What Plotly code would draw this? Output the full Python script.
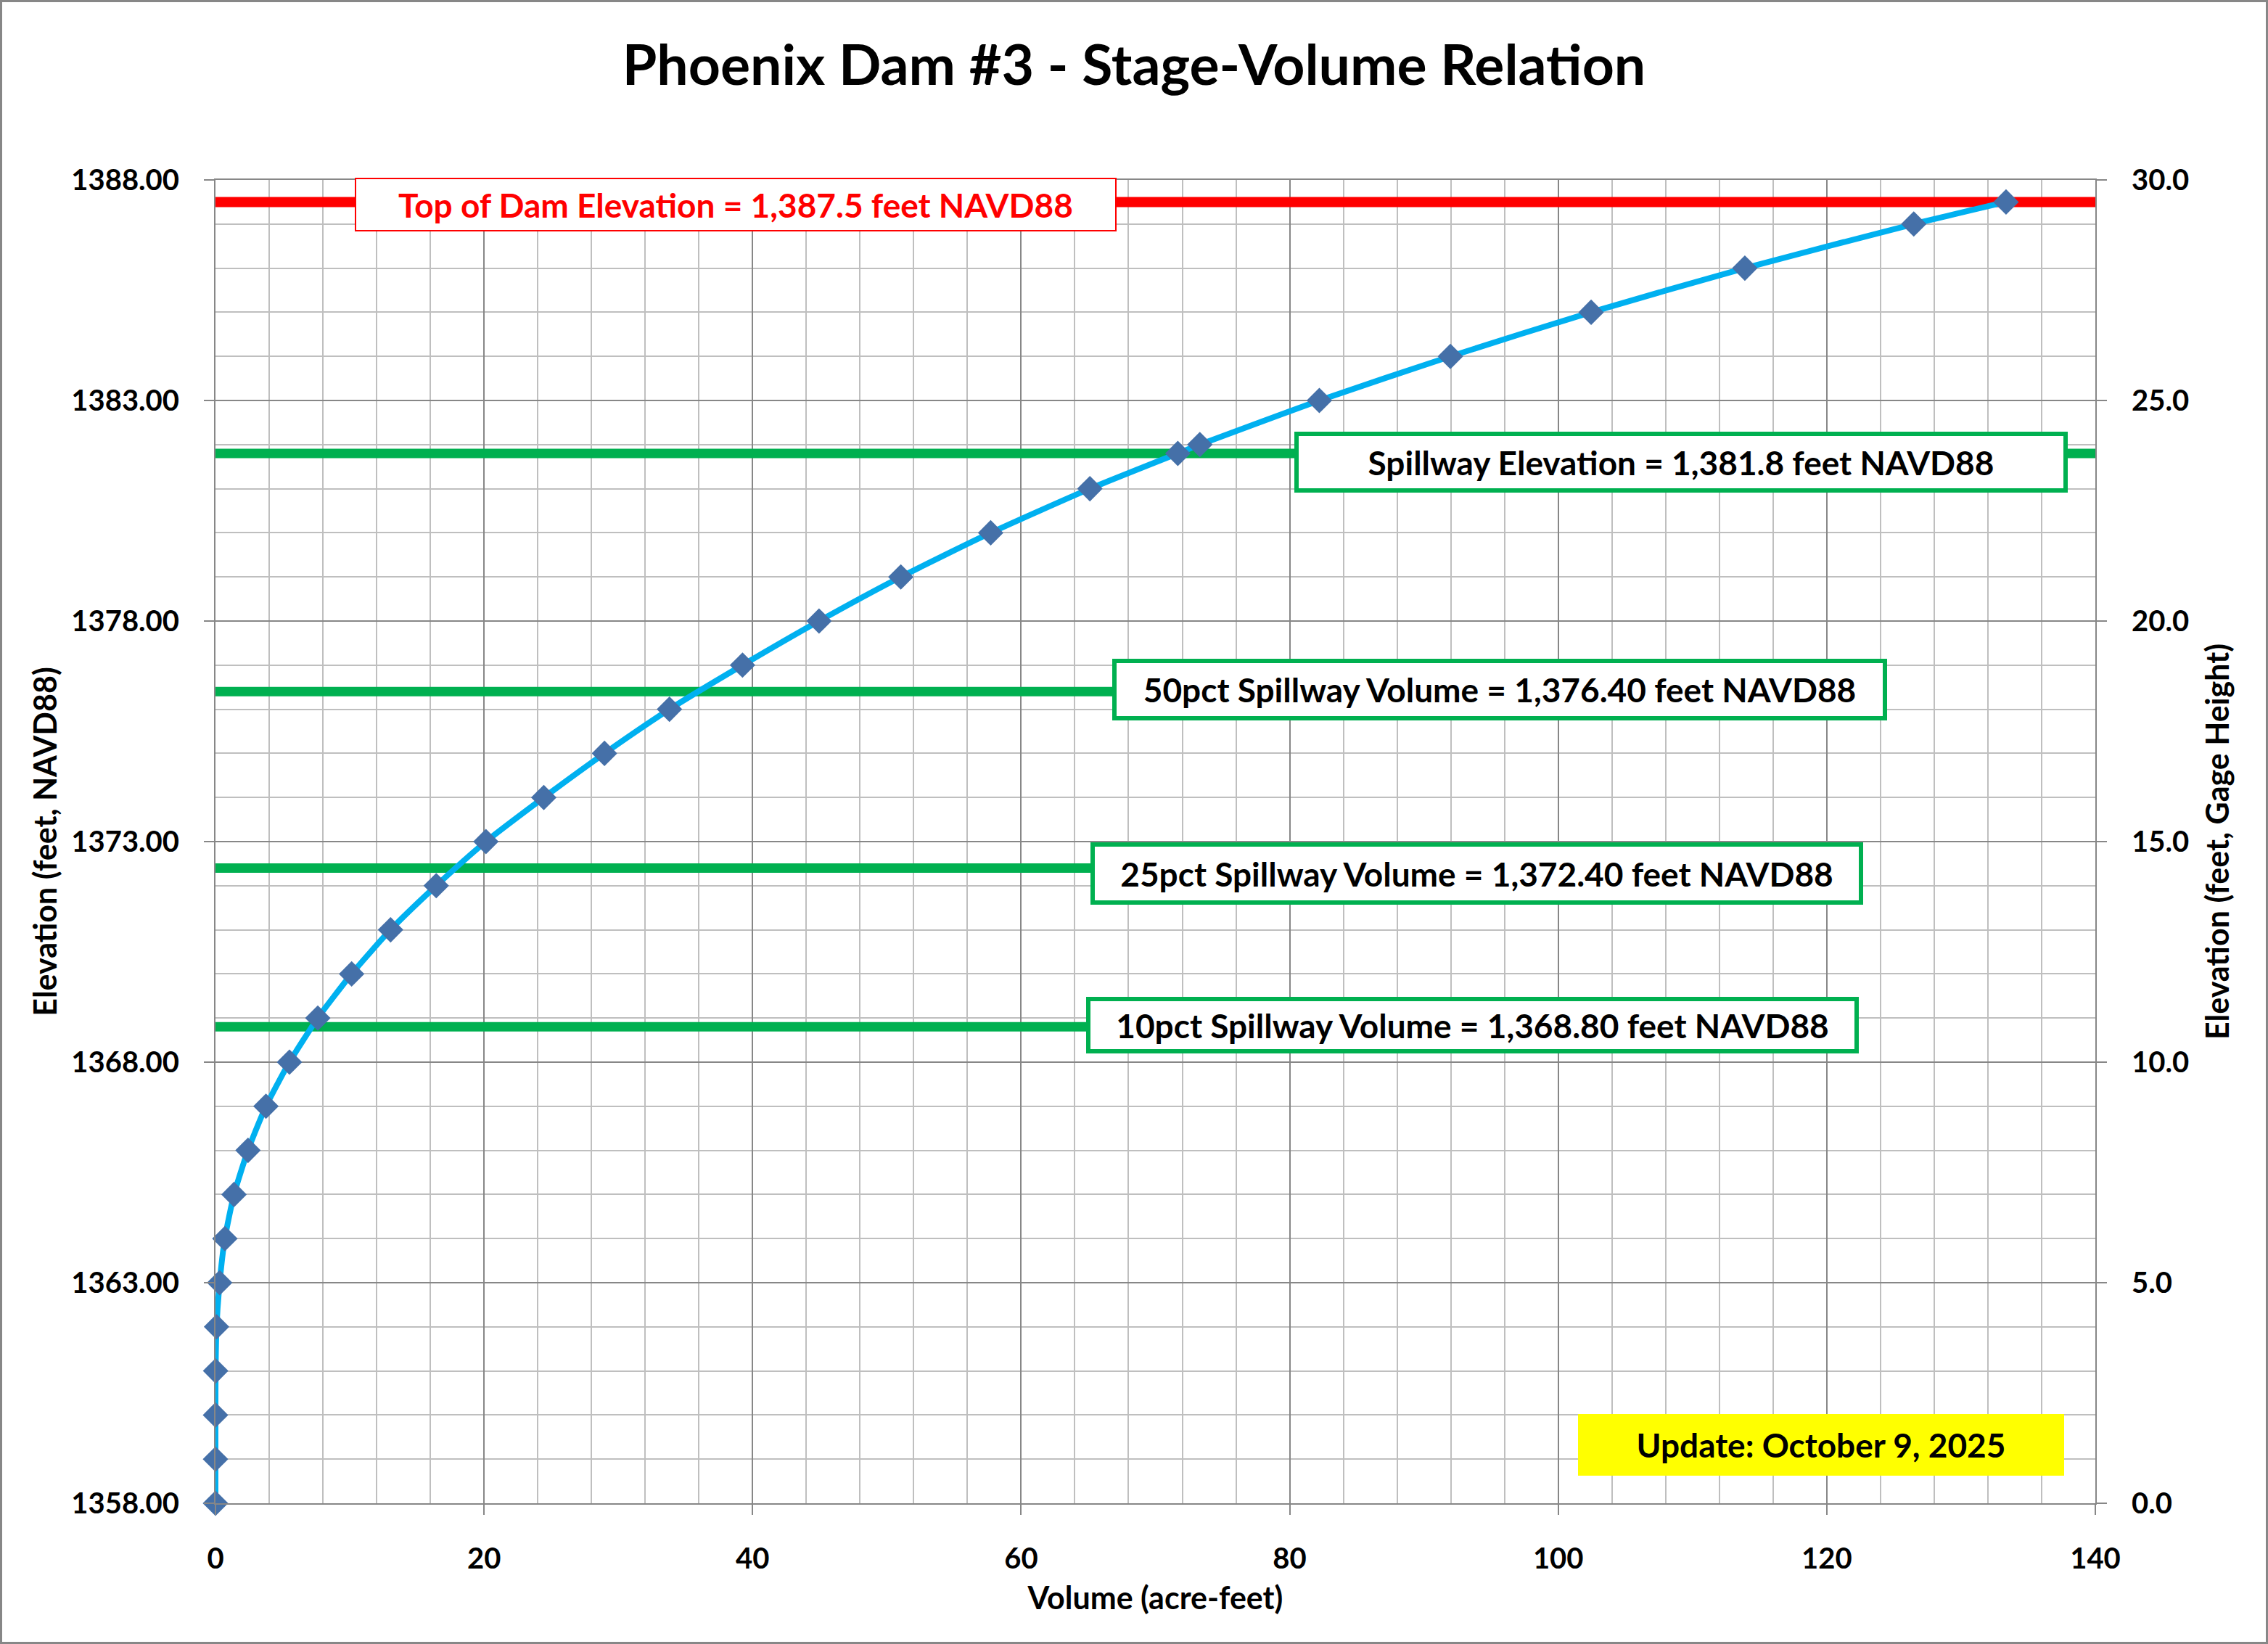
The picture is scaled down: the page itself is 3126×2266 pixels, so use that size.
import plotly.graph_objects as go

# ---------------- data ----------------
elevation_ft = [1358, 1359, 1360, 1361, 1362, 1363, 1364, 1365, 1366, 1367,
                1368, 1369, 1370, 1371, 1372, 1373, 1374, 1375, 1376, 1377,
                1378, 1379, 1380, 1381, 1381.8, 1382, 1383, 1384, 1385, 1386,
                1387, 1387.5]
volume_acft = [0.0, 0.0, 0.0, 0.01, 0.08, 0.31, 0.70, 1.38, 2.42, 3.76,
               5.51, 7.62, 10.14, 13.04, 16.44, 20.14, 24.45, 28.97, 33.81, 39.25,
               44.95, 51.04, 57.73, 65.12, 71.67, 73.31, 82.21, 91.97, 102.45, 113.9,
               126.48, 133.35]

top_of_dam = 1387.5
spillway = 1381.8
pct50 = 1376.40
pct25 = 1372.40
pct10 = 1368.80

x_ticks = [0, 20, 40, 60, 80, 100, 120, 140]
y_ticks = [1358, 1363, 1368, 1373, 1378, 1383, 1388]
gage_ticks = [0, 5, 10, 15, 20, 25, 30]

title_text = "Phoenix Dam #3 - Stage-Volume Relation"
top_label = "Top of Dam Elevation = 1,387.5 feet NAVD88"
spill_label = "Spillway Elevation = 1,381.8 feet NAVD88"
p50_label = "50pct Spillway Volume = 1,376.40 feet NAVD88"
p25_label = "25pct Spillway Volume = 1,372.40 feet NAVD88"
p10_label = "10pct Spillway Volume = 1,368.80 feet NAVD88"
date_label = "Update: October 9, 2025"

# ---------------- styling ----------------
FONT = "Lato"
W, H = 3126, 2266
ML, MR, MT, MB = 297, 238, 248, 194
GRID_MAJOR = "#878787"
GRID_MINOR = "#BFBFBF"
RED = "#FF0000"
GREEN = "#00B050"
CURVE = "#00B0F0"
MARK = "#4570A8"

fig = go.Figure()

# horizontal reference lines
fig.add_trace(go.Scatter(x=[0, 140], y=[top_of_dam, top_of_dam], mode="lines",
                         line=dict(color=RED, width=14), hoverinfo="skip", showlegend=False))
fig.add_trace(go.Scatter(x=[0, 140], y=[spillway, spillway], mode="lines",
                         line=dict(color=GREEN, width=13), hoverinfo="skip", showlegend=False))
for lvl, xend in [(pct50, 90), (pct25, 90), (pct10, 90)]:
    fig.add_trace(go.Scatter(x=[0, xend], y=[lvl, lvl], mode="lines",
                             line=dict(color=GREEN, width=13), hoverinfo="skip", showlegend=False))

# stage-volume curve
fig.add_trace(go.Scatter(x=volume_acft, y=elevation_ft, mode="lines+markers",
                         line=dict(color=CURVE, width=8, shape="spline", smoothing=0.6),
                         marker=dict(symbol="diamond", size=27, color=MARK),
                         cliponaxis=False, showlegend=False))

# invisible trace for right axis
fig.add_trace(go.Scatter(x=[0, 0], y=[0, 30], yaxis="y2", mode="markers",
                         marker=dict(opacity=0), hoverinfo="skip", showlegend=False))

tickfont = dict(family=FONT, size=40, color="black", weight="bold")
titlefont = dict(family=FONT, size=43, color="black", weight="bold")

fig.update_layout(
    width=W, height=H,
    margin=dict(l=ML, r=MR, t=MT, b=MB, pad=0),
    paper_bgcolor="white", plot_bgcolor="white",
    title=dict(text=title_text, x=0.5, xref="container", xanchor="center",
               y=1 - 90 / H, yref="container", yanchor="middle",
               font=dict(family=FONT, size=77, color="black", weight="bold")),
    xaxis=dict(range=[0, 140], tickvals=x_ticks, ticktext=[str(v) for v in x_ticks],
               showgrid=True, gridcolor=GRID_MAJOR, gridwidth=2,
               minor=dict(dtick=4, tick0=0, showgrid=True, gridcolor=GRID_MINOR, gridwidth=2),
               showline=True, linecolor=GRID_MAJOR, linewidth=2, mirror=True,
               ticks="outside", ticklen=14, tickwidth=2, tickcolor=GRID_MAJOR,
               tickfont=tickfont, ticklabelstandoff=26, zeroline=False,
               title=dict(text="Volume (acre-feet)", font=titlefont, standoff=18)),
    yaxis=dict(range=[1358, 1388], tickvals=y_ticks, tickformat=".2f",
               showgrid=True, gridcolor=GRID_MAJOR, gridwidth=2,
               minor=dict(dtick=1, tick0=1358, showgrid=True, gridcolor=GRID_MINOR, gridwidth=2),
               showline=True, linecolor=GRID_MAJOR, linewidth=2, mirror=True,
               ticks="outside", ticklen=14, tickwidth=2, tickcolor=GRID_MAJOR,
               tickfont=tickfont, ticklabelstandoff=26, zeroline=False,
               title=dict(text="Elevation (feet, NAVD88)", font=titlefont, standoff=6)),
    yaxis2=dict(range=[0, 30], tickvals=gage_ticks, tickformat=".1f",
                overlaying="y", side="right", showgrid=False,
                showline=True, linecolor=GRID_MAJOR, linewidth=2,
                ticks="outside", ticklen=14, tickwidth=2, tickcolor=GRID_MAJOR,
                tickfont=tickfont, ticklabelstandoff=26, zeroline=False,
                title=dict(text="Elevation (feet, Gage Height)", font=titlefont, standoff=26)),
)

boxfont = dict(family=FONT, size=46, weight="bold")

def box(text, x, y, w, h, color, border, bw, bg="white"):
    fig.add_annotation(text=text, x=x, y=y, xref="x", yref="y",
                       xanchor="center", yanchor="middle", showarrow=False,
                       width=w - 2 * bw, height=h - 2 * bw, align="center", valign="middle",
                       bgcolor=bg, bordercolor=border, borderwidth=bw, borderpad=0,
                       font=dict(boxfont, color=color))

box(top_label, 38.76, 1387.44, 1050, 74, RED, RED, 2)
box(spill_label, 109.15, 1381.60, 1066, 84, "black", GREEN, 6)
box(p50_label, 95.65, 1376.45, 1068, 85, "black", GREEN, 6)
box(p25_label, 93.93, 1372.28, 1065, 86, "black", GREEN, 6)
box(p10_label, 93.63, 1368.84, 1065, 78, "black", GREEN, 6)
box(date_label, 119.57, 1359.32, 670, 85, "black", "rgba(0,0,0,0)", 0, bg="#FFFF00")

# outer chart border
pw, ph = W - ML - MR, H - MT - MB
fig.add_shape(type="rect", xref="paper", yref="paper",
              x0=(1.5 - ML) / pw, x1=(W - 1.5 - ML) / pw,
              y0=(H - MB - (H - 1.5)) / ph, y1=(H - MB - 1.5) / ph,
              line=dict(color=GRID_MAJOR, width=3), fillcolor="rgba(0,0,0,0)", layer="above")

fig.write_html("out.html")
